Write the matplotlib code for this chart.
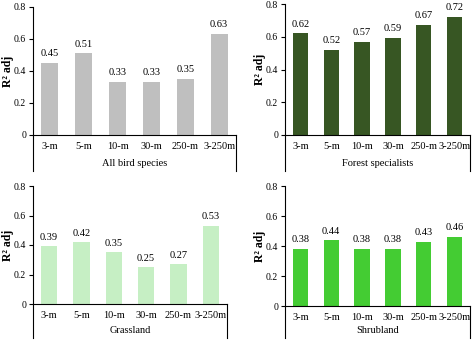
import matplotlib.pyplot as plt
from matplotlib.lines import Line2D

plt.rcParams['font.family'] = ['Liberation Serif', 'DejaVu Serif']

scales = ['3-m', '5-m', '10-m', '30-m', '250-m', '3-250m']

all_birds = [0.45, 0.51, 0.33, 0.33, 0.35, 0.63]
forest = [0.62, 0.52, 0.57, 0.59, 0.67, 0.72]
grassland = [0.39, 0.42, 0.35, 0.25, 0.27, 0.53]
shrubland = [0.38, 0.44, 0.38, 0.38, 0.43, 0.46]

groups = ['All bird species', 'Forest specialists', 'Grassland', 'Shrubland']
colors = ['#BFBFBF', '#375623', '#C6EFC4', '#44CC33']

W, H = 474, 342
fig = plt.figure(figsize=(W / 100, H / 100), dpi=100)

# panel boxes in pixels: left, right, y of 0, y of 0.8, bracket bottom
boxes = [
    (33, 236, 135, 7, 171),
    (285, 470, 135, 4, 171),
    (33, 227, 304, 186, 338),
    (285, 470, 306, 186, 338),
]


def draw_panel(box, values, color, group):
    x0, x1, ybot, ytop, ybr = box
    ax = fig.add_axes([x0 / W, 1 - ybot / H, (x1 - x0) / W, (ybot - ytop) / H])
    xs = range(len(scales))
    ax.bar(xs, values, width=0.5, color=color)
    for x, v in zip(xs, values):
        ax.text(x, v + 0.03, f'{v:.2f}', ha='center', va='bottom', fontsize=7.5)
    ax.set_xlim(-0.5, len(scales) - 0.5)
    ax.set_ylim(0, 0.8)
    ax.set_yticks([0, 0.2, 0.4, 0.6, 0.8])
    ax.set_yticklabels(['0', '0.2', '0.4', '0.6', '0.8'], fontsize=7)
    ax.set_xticks(list(xs))
    ax.set_xticklabels(scales, fontsize=7.5)
    ax.tick_params(axis='x', length=0, pad=5)
    ax.tick_params(axis='y', length=3, width=0.8, pad=2)
    for s in ['top', 'right']:
        ax.spines[s].set_visible(False)
    ax.spines['left'].set_linewidth(0.8)
    ax.spines['bottom'].set_linewidth(0.8)
    ax.set_ylabel('R² adj', fontsize=8.5, fontweight='bold')
    ax.yaxis.set_label_coords(-19 / (x1 - x0), 0.5)
    drop = (ybr - ybot) / (ybot - ytop)
    for xa in (0, 1):
        ax.add_line(Line2D([xa, xa], [0, -drop], transform=ax.transAxes,
                           color='black', lw=0.8, clip_on=False))
    ax.text(0.5, -drop * 0.78, group, transform=ax.transAxes,
            ha='center', va='center', fontsize=7.5)
    return ax


for box, vals, col, grp in zip(boxes, [all_birds, forest, grassland, shrubland],
                               colors, groups):
    draw_panel(box, vals, col, grp)

fig.savefig('out.png', dpi=100)
